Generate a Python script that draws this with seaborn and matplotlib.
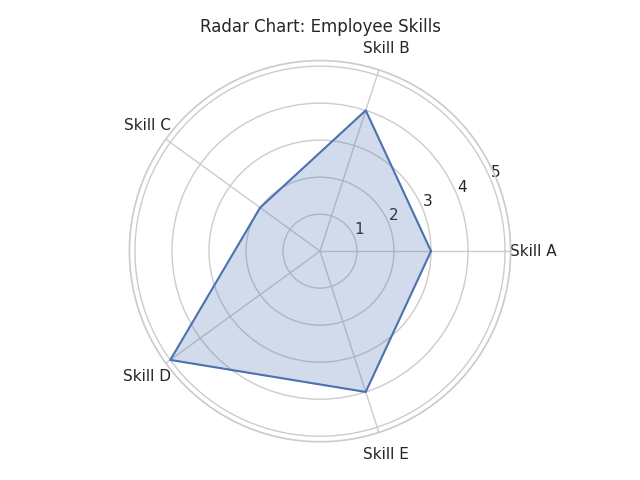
import numpy as np
import matplotlib
matplotlib.use("Agg")
import matplotlib.pyplot as plt
import seaborn as sns

sns.set_theme(style="whitegrid")

categories = ["Skill A", "Skill B", "Skill C", "Skill D", "Skill E"]
values = [3, 4, 2, 5, 4]

n = len(categories)
angles = np.linspace(0, 2 * np.pi, n, endpoint=False).tolist()
vals = values + values[:1]
angs = angles + angles[:1]

fig = plt.figure(figsize=(6.4, 4.8))
ax = fig.add_subplot(111, polar=True)
color = sns.color_palette()[0]
ax.plot(angs, vals, color=color, linewidth=1.5)
ax.fill(angs, vals, color=color, alpha=0.25)
ax.set_xticks(angles)
ax.set_xticklabels(categories)
ax.set_yticks([1, 2, 3, 4, 5])
ax.set_ylim(0, 5.15)
ax.set_title("Radar Chart: Employee Skills")
fig.tight_layout()
fig.savefig("out.png", dpi=100)
